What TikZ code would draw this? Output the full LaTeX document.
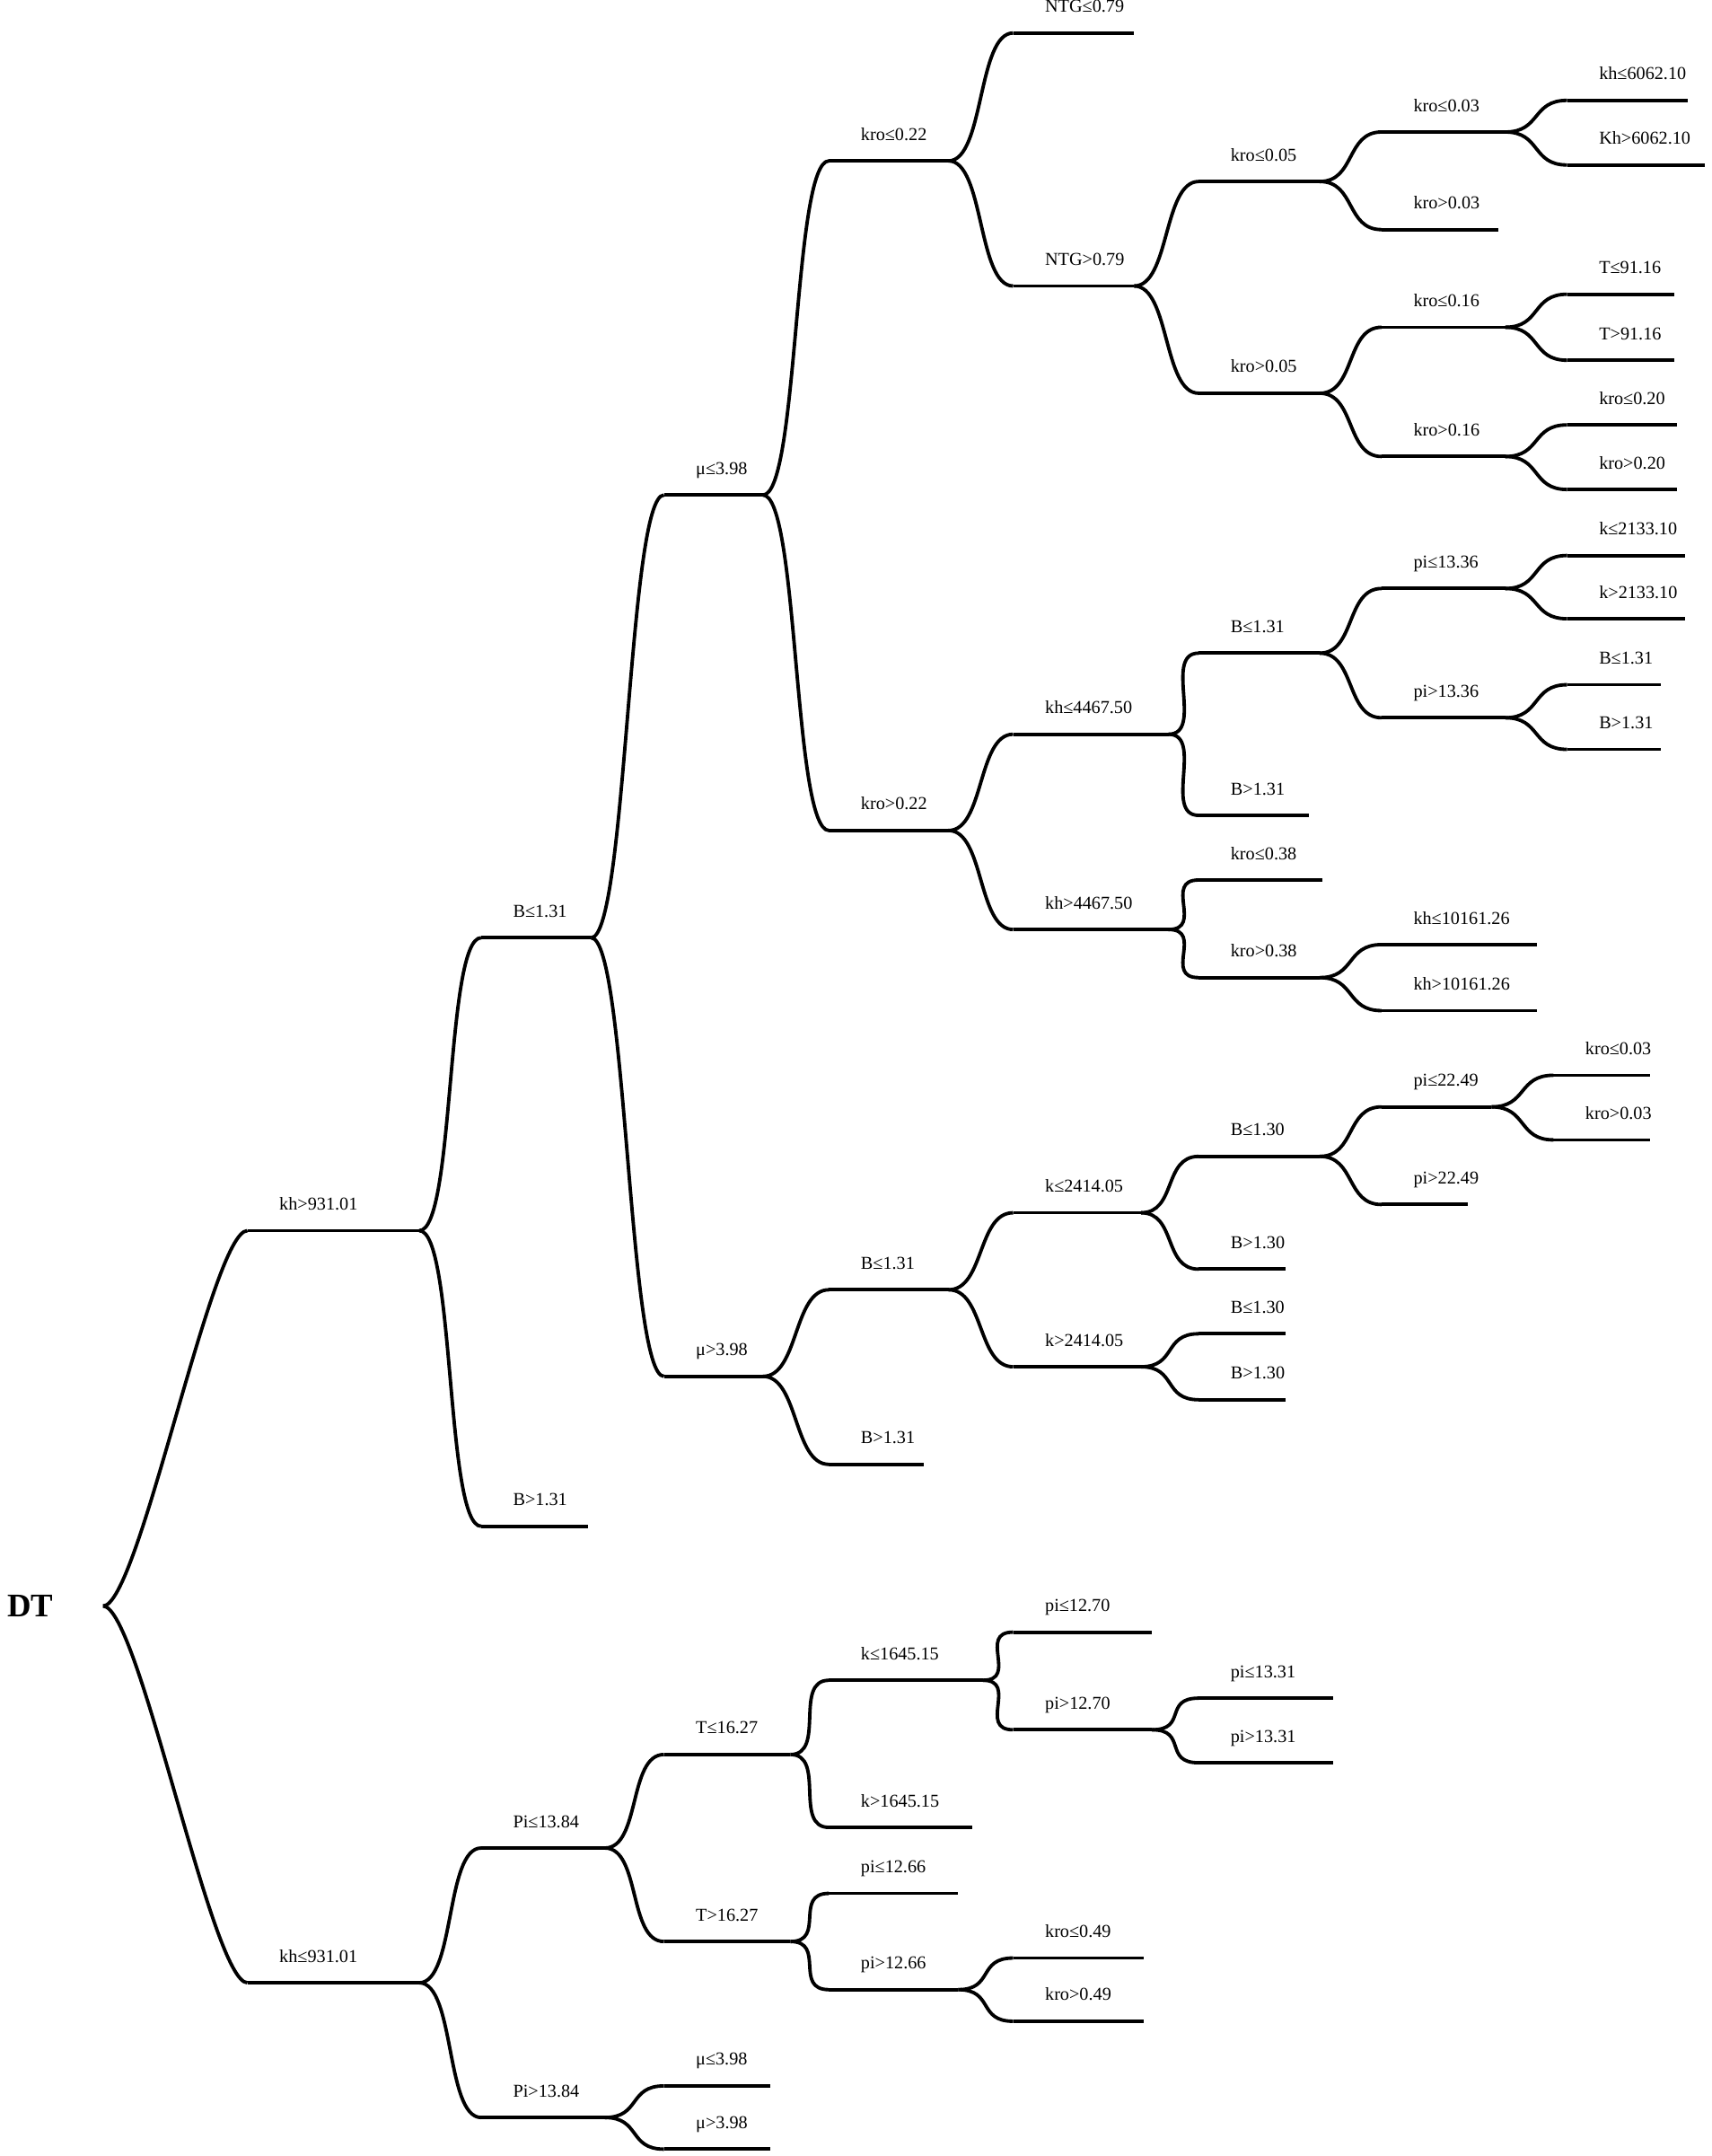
\documentclass[tikz,border=0pt]{standalone}
\usepackage{fontspec}
\setmainfont{Liberation Serif}
\begin{document}
\begin{tikzpicture}[x=0.5pt,y=-0.5pt,line width=1.25pt,
  lab/.style={anchor=base west,inner sep=0pt,font=\fontsize{6.6}{7}\selectfont}]
\useasboundingbox (0,0) rectangle (1245,1568);
\newcommand\br[6]{%
  \coordinate (#2S) at (#4,#3);
  \coordinate (#2E) at (#5,#3);
  \draw (#2S) -- (#2E);
  \draw (#1E) .. controls +(26,0) and +(-26,0) .. (#2S);
  \node[lab] (#2L) at (#4+22,#3-15) {#6};}
\node[font=\fontsize{12}{14}\bfseries\selectfont] (dt) at (22,1168) {DT};
\coordinate (rootE) at (75,1168);
\br{root}{a}{895}{180}{305}{kh>931.01}
\br{root}{b}{1442}{180}{305}{kh≤931.01}
\br{a}{aa}{682}{350}{430}{B≤1.31}
\br{a}{ab}{1110}{350}{428}{B>1.31}
\br{aa}{m1}{360}{483}{555}{μ≤3.98}
\br{aa}{m2}{1001}{483}{555}{μ>3.98}
\br{m1}{k1}{117}{603}{690}{kro≤0.22}
\br{m1}{k2}{604}{603}{690}{kro>0.22}
\br{k1}{n1}{24}{737}{825}{NTG≤0.79}
\br{k1}{n2}{208}{737}{825}{NTG>0.79}
\br{n2}{p1}{132}{872}{960}{kro≤0.05}
\br{n2}{p2}{286}{872}{960}{kro>0.05}
\br{p1}{q1}{96}{1005}{1095}{kro≤0.03}
\br{p1}{q2}{167}{1005}{1090}{kro>0.03}
\br{q1}{r1}{73}{1140}{1228}{kh≤6062.10}
\br{q1}{r2}{120}{1140}{1240}{Kh>6062.10}
\br{p2}{q3}{238}{1005}{1095}{kro≤0.16}
\br{p2}{q4}{332}{1005}{1095}{kro>0.16}
\br{q3}{r3}{214}{1140}{1218}{T≤91.16}
\br{q3}{r4}{262}{1140}{1218}{T>91.16}
\br{q4}{r5}{309}{1140}{1220}{kro≤0.20}
\br{q4}{r6}{356}{1140}{1220}{kro>0.20}
\br{k2}{h1}{534}{737}{850}{kh≤4467.50}
\br{k2}{h2}{676}{737}{850}{kh>4467.50}
\br{h1}{s1}{475}{872}{960}{B≤1.31}
\br{h1}{s2}{593}{872}{952}{B>1.31}
\br{s1}{t1}{428}{1005}{1095}{pi≤13.36}
\br{s1}{t2}{522}{1005}{1095}{pi>13.36}
\br{t1}{u1}{404}{1140}{1226}{k≤2133.10}
\br{t1}{u2}{450}{1140}{1226}{k>2133.10}
\br{t2}{u3}{498}{1140}{1208}{B≤1.31}
\br{t2}{u4}{545}{1140}{1208}{B>1.31}
\br{h2}{s3}{640}{872}{962}{kro≤0.38}
\br{h2}{s4}{711}{872}{960}{kro>0.38}
\br{s4}{t3}{687}{1005}{1118}{kh≤10161.26}
\br{s4}{t4}{735}{1005}{1118}{kh>10161.26}
\br{m2}{c1}{938}{603}{690}{B≤1.31}
\br{m2}{c2}{1065}{603}{672}{B>1.31}
\br{c1}{d1}{882}{737}{830}{k≤2414.05}
\br{c1}{d2}{994}{737}{830}{k>2414.05}
\br{d1}{e1}{841}{872}{960}{B≤1.30}
\br{d1}{e2}{923}{872}{935}{B>1.30}
\br{e1}{f1}{805}{1005}{1085}{pi≤22.49}
\br{e1}{f2}{876}{1005}{1068}{pi>22.49}
\br{f1}{g1}{782}{1130}{1200}{kro≤0.03}
\br{f1}{g2}{829}{1130}{1200}{kro>0.03}
\br{d2}{e3}{970}{872}{935}{B≤1.30}
\br{d2}{e4}{1018}{872}{935}{B>1.30}
\br{b}{ba}{1344}{350}{440}{Pi≤13.84}
\br{b}{bb}{1540}{350}{440}{Pi>13.84}
\br{ba}{v1}{1276}{483}{575}{T≤16.27}
\br{ba}{v2}{1412}{483}{575}{T>16.27}
\br{v1}{w1}{1222}{603}{715}{k≤1645.15}
\br{v1}{w2}{1329}{603}{707}{k>1645.15}
\br{w1}{x1}{1187}{737}{838}{pi≤12.70}
\br{w1}{x2}{1258}{737}{838}{pi>12.70}
\br{x2}{y1}{1235}{872}{970}{pi≤13.31}
\br{x2}{y2}{1282}{872}{970}{pi>13.31}
\br{v2}{w3}{1377}{603}{697}{pi≤12.66}
\br{v2}{w4}{1447}{603}{697}{pi>12.66}
\br{w4}{x3}{1424}{737}{832}{kro≤0.49}
\br{w4}{x4}{1470}{737}{832}{kro>0.49}
\br{bb}{v3}{1517}{483}{560}{μ≤3.98}
\br{bb}{v4}{1563}{483}{560}{μ>3.98}
\end{tikzpicture}
\end{document}
